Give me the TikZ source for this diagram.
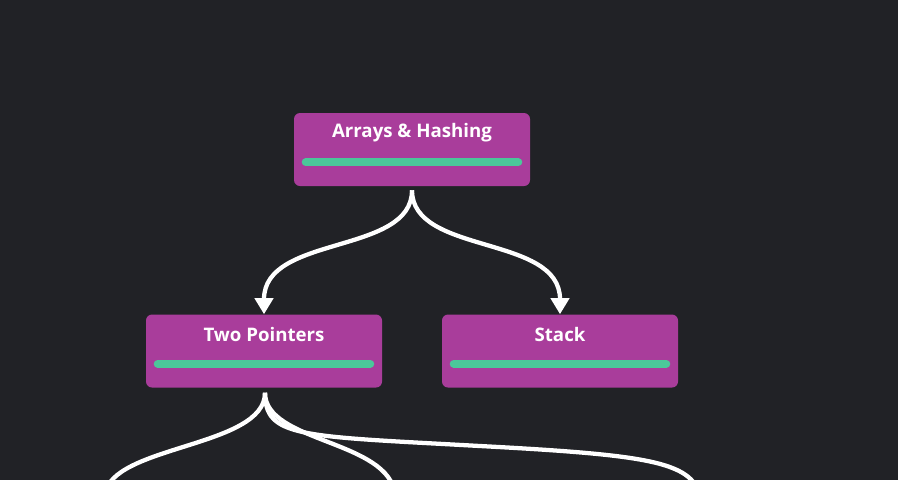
\documentclass[tikz,border=0pt]{standalone}
\usepackage{fontspec}
\setmainfont{Open Sans}
\usetikzlibrary{arrows.meta,calc}
\definecolor{bg}{HTML}{212226}
\definecolor{topic}{HTML}{A93D9B}
\definecolor{bar}{HTML}{4BC79A}
\tikzset{
  topicbox/.style={fill=topic,rounded corners=4.5pt,minimum width=177pt,minimum height=54.75pt,inner sep=0pt},
  progress/.style={bar,line width=6pt,line cap=round},
  link/.style={white,line width=3.2pt,-{Triangle[length=12pt,width=13.5pt]}},
  plainlink/.style={white,line width=3.2pt}
}
\newcommand{\topic}[3]{%
  \node[topicbox] (#1) at (#2) {};
  \node[white,font=\bfseries\fontsize{14}{16}\selectfont] (#1t) at ($(#1.north)+(0,-15pt)$) {#3};
  \draw[progress] ($(#1.south west)+(12,-24)$) -- ($(#1.south east)+(-12,-24)$);
}
\begin{document}
\begin{tikzpicture}[x=0.75pt,y=-0.75pt]
\fill[bg] (0,0) rectangle (898,480);
\clip (0,0) rectangle (898,480);

\topic{hash}{412,149.5}{Arrays \& Hashing}
\topic{twoptr}{264,351}{Two Pointers}
\topic{stack}{560,351}{Stack}

\draw[link] ($(hash.south)+(0,4)$) .. controls ++(0,65) and ($(twoptr.north)+(0,-80)$) .. (twoptr.north);
\draw[link] ($(hash.south)+(0,4)$) .. controls ++(0,65) and ($(stack.north)+(0,-80)$) .. (stack.north);

\coordinate (leftend) at (105,495);
\coordinate (midend) at (395,495);
\coordinate (rightend) at (700,495);
\draw[plainlink] ($(twoptr.south)+(1,5)$) .. controls ++(0,55) and (110,445) .. (leftend);
\draw[plainlink] ($(twoptr.south)+(1,5)$) .. controls ++(0,50) and (390,440) .. (midend);
\draw[plainlink] ($(twoptr.south)+(1,5)$) .. controls ++(0,45) and (300,436) .. (480,446)
  .. controls (650,455) and (690,462) .. (rightend);
\end{tikzpicture}
\end{document}
